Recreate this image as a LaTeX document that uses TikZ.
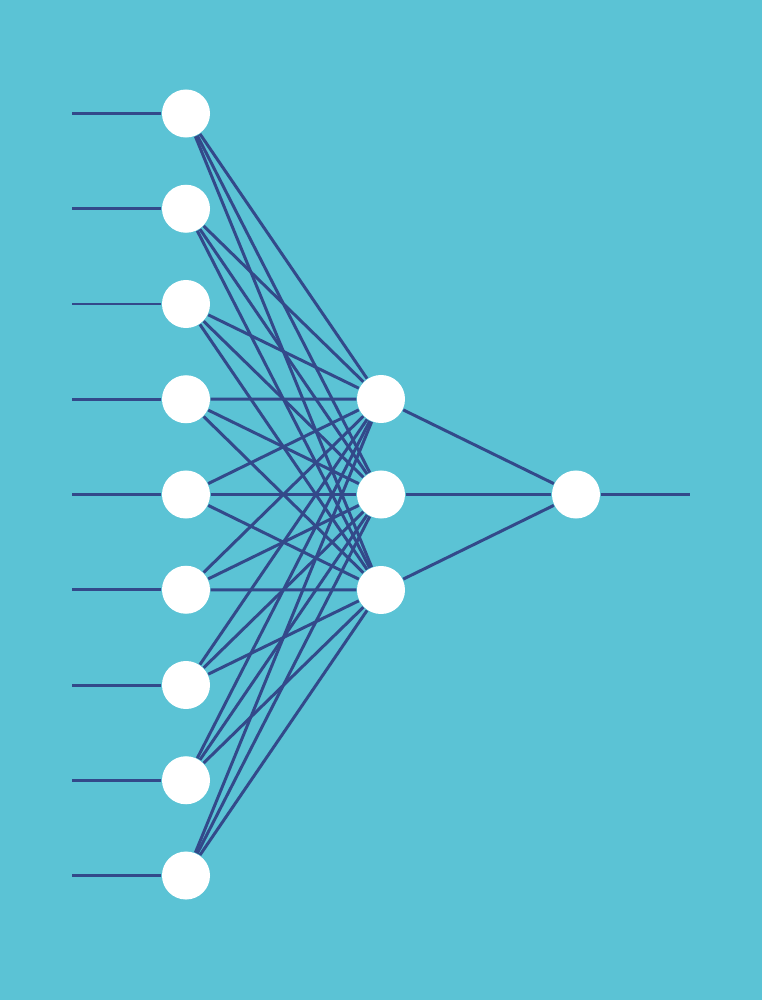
\documentclass[tikz,border=0pt]{standalone}
\usetikzlibrary{positioning}
\definecolor{bgblue}{HTML}{5BC3D5}
\definecolor{wire}{HTML}{33498A}
\tikzset{neuron/.style={circle,fill=white,minimum size=4.8mm,inner sep=0pt},
  link/.style={draw=wire,line width=0.85pt}}
\begin{document}
\begin{tikzpicture}[x=0.01cm,y=-0.01cm]
\fill[bgblue] (0,0) rectangle (762,1000);
% input layer
\foreach \i in {1,...,9}{
  \node[neuron] (in\i) at (186,{18.25+95.25*\i}) {};
  \coordinate (x\i) at (72,{18.25+95.25*\i});
}
% hidden layer
\node[neuron] (h1) at (381,399) {};
\node[neuron] (h2) at (381,494.5) {};
\node[neuron] (h3) at (381,590) {};
% output
\node[neuron] (out) at (576,494.5) {};
\coordinate (y) at (690,494.5);
\foreach \i in {1,...,9}{
  \draw[link] (x\i) -- (in\i);
  \foreach \j in {1,2,3}
    \draw[link] (in\i) -- (h\j);
}
\foreach \j in {1,2,3}
  \draw[link] (h\j) -- (out);
\draw[link] (out) -- (y);
\end{tikzpicture}
\end{document}
